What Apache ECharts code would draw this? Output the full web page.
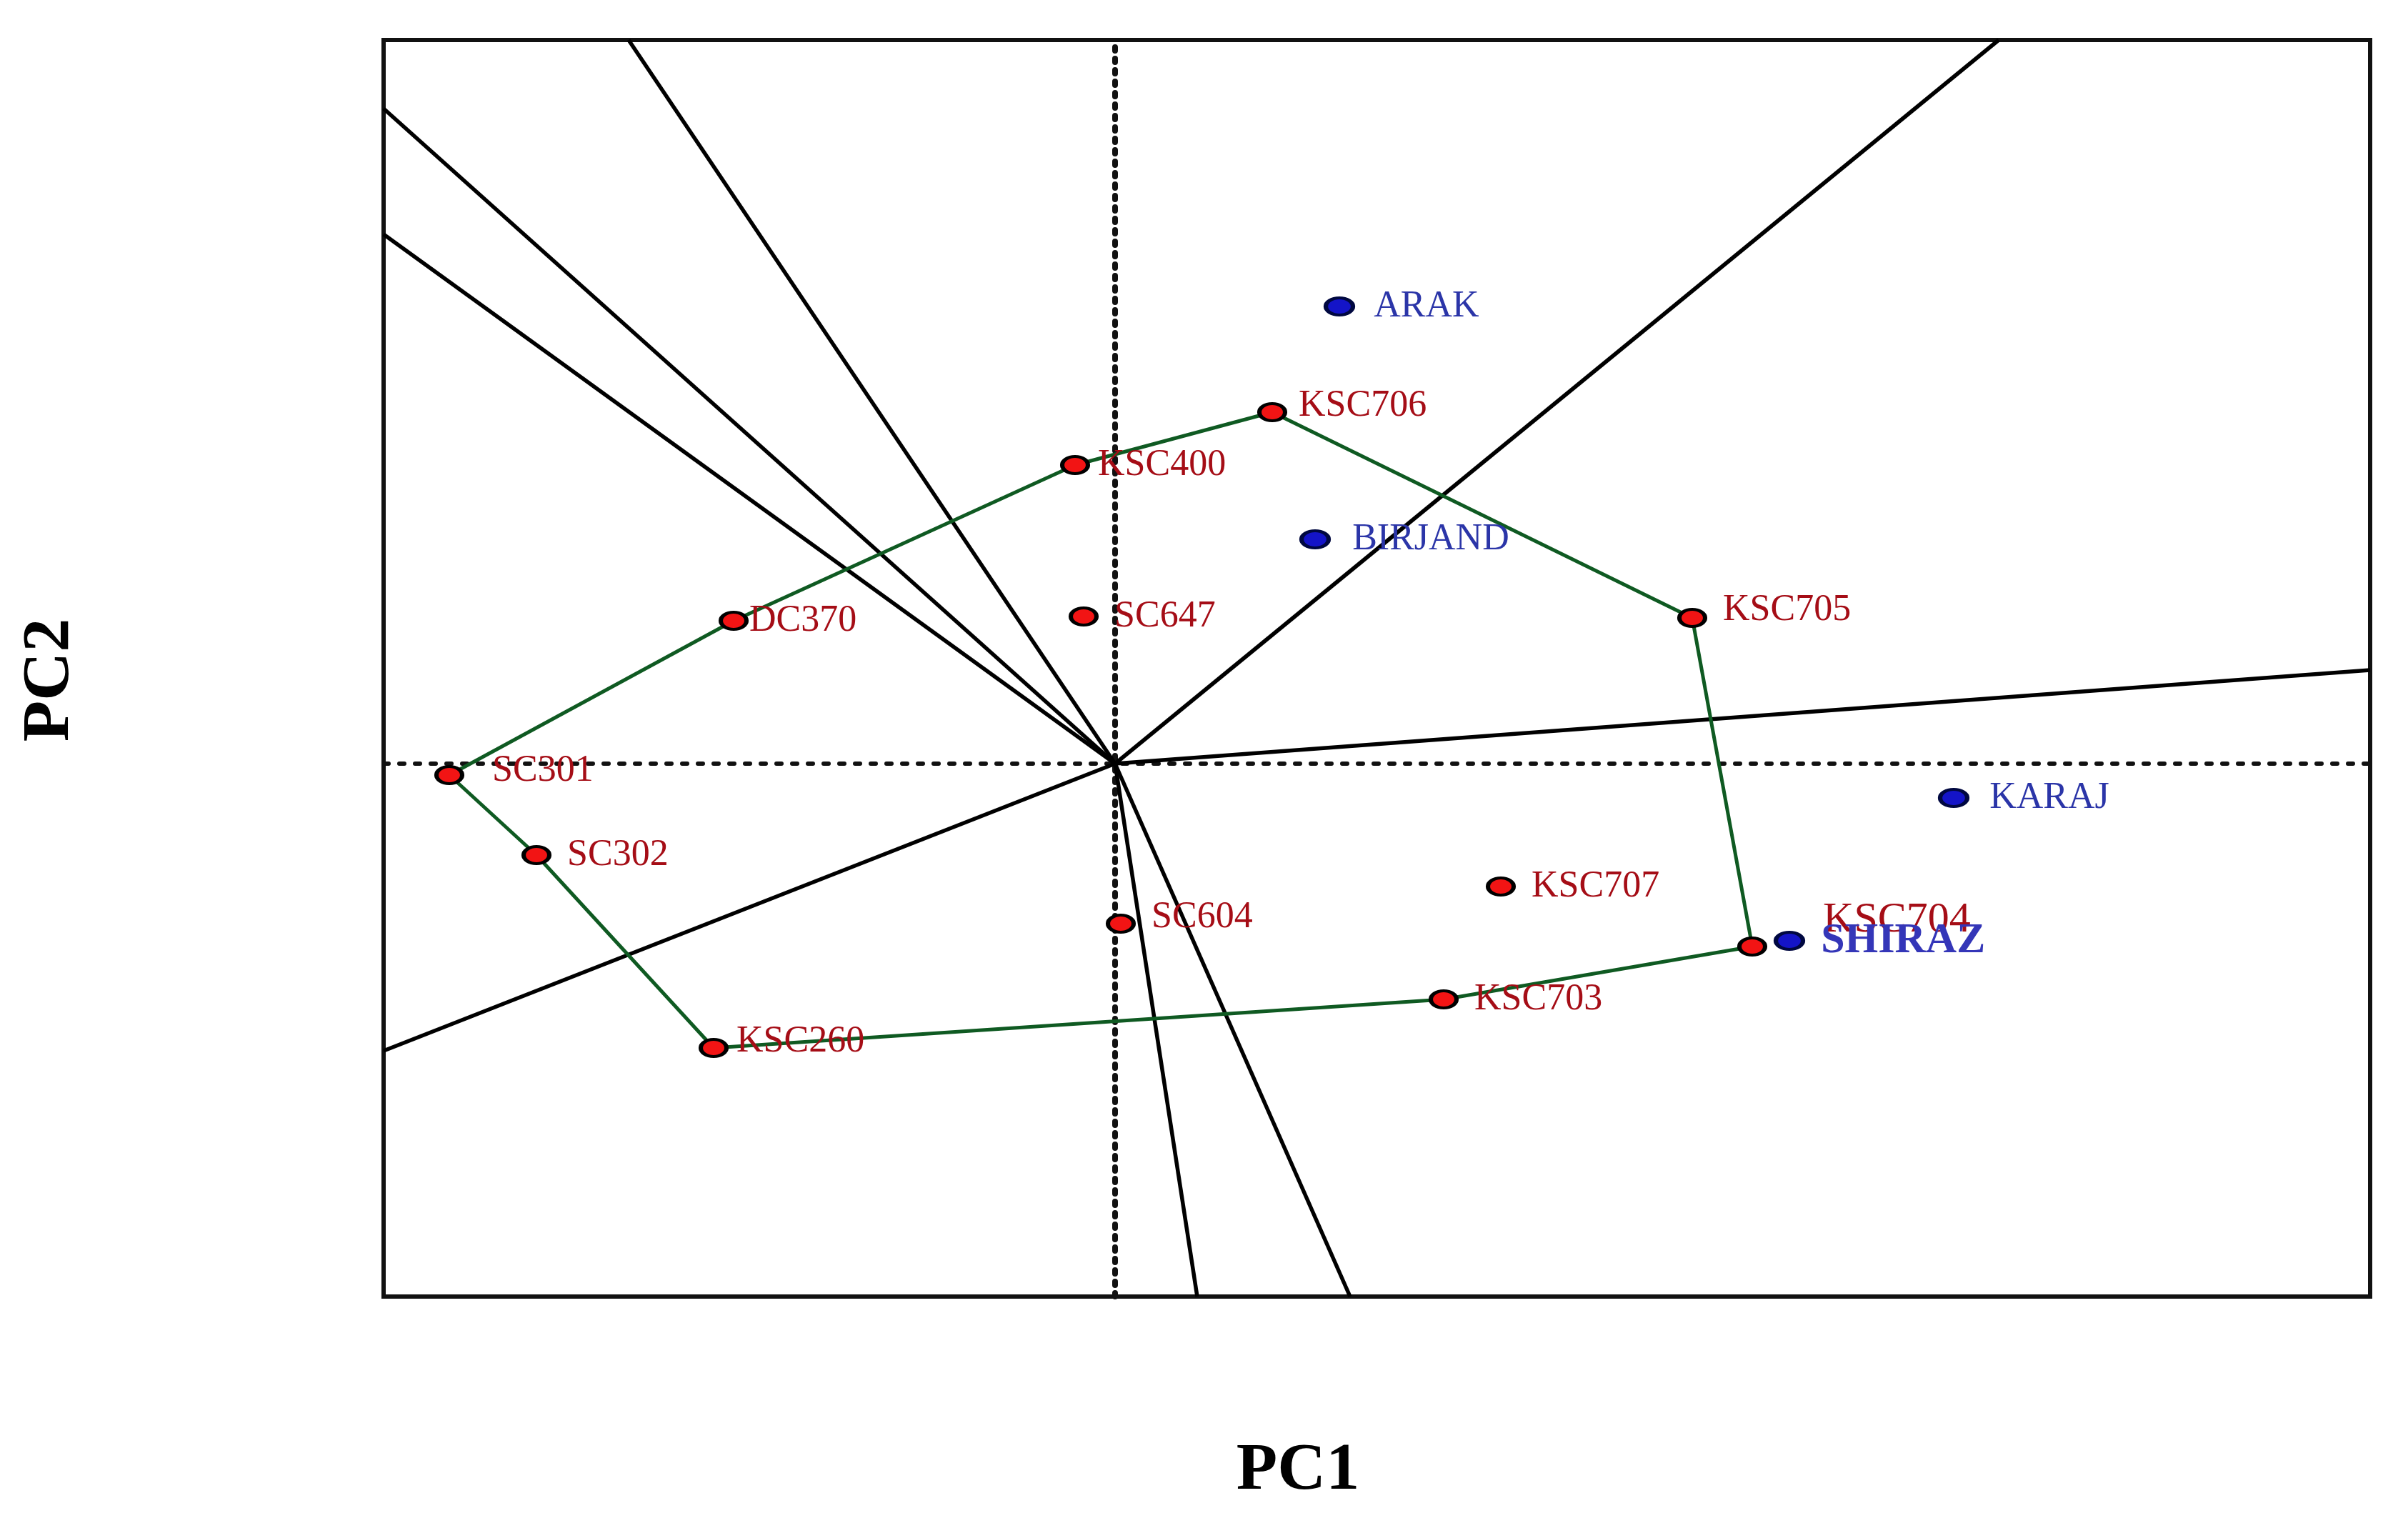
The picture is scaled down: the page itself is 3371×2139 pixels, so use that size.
<!DOCTYPE html>
<html><head><meta charset="utf-8">
<script src="https://cdn.jsdelivr.net/npm/echarts@6/dist/echarts.min.js"></script>
<style>html,body{margin:0;padding:0;background:#fff}#c{width:3371px;height:2139px}</style>
</head><body><div id="c"></div>
<script>
// ---- data (PC scores) ----
const genotypes = ['KSC706','KSC400','DC370','SC647','KSC705','SC301','SC302','KSC707','SC604','KSC704','KSC703','KSC260'];
const genotypePC1 = [1.10,-0.28,-2.67,-0.22,4.04,-4.66,-4.05,2.70,0.04,4.46,2.30,-2.81];
const genotypePC2 = [2.46,2.09,1.00,1.03,1.02,-0.08,-0.64,-0.86,-1.12,-1.28,-1.65,-1.99];
const environments = ['ARAK','BIRJAND','KARAJ','SHIRAZ'];
const environmentPC1 = [1.57,1.40,5.87,4.72];
const environmentPC2 = [3.20,1.57,-0.24,-1.24];
const hullOrder = ['SC301','DC370','KSC400','KSC706','KSC705','KSC704','KSC703','KSC260','SC302','SC301'];
const rayEndPC1 = [-3.405,-5.12,-5.12,6.185,8.785,-5.12,0.575,1.645];
const rayEndPC2 = [5.065,4.585,3.705,5.065,0.655,-2.01,-3.73,-3.73];
const pc1Range = [-5.12, 8.785];
const pc2Range = [-3.73, 5.065];
const axisTitles = ['PC1','PC2'];

// ---- styles ----
const labelTweaks = {
  DC370:{distance:1}, KSC400:{distance:11}, KSC260:{distance:11, offset:[0,-9]},
  KSC706:{distance:16, offset:[0,-9]}, SC301:{distance:39, offset:[0,-6]},
  KSC705:{offset:[0,-11]}, SC604:{offset:[0,-9]},
  KSC704:{distance:78, offset:[0,-37], fontSize:60},
  SHIRAZ:{fontSize:60, fontWeight:'bold', color:'#3436b8'},
  ARAK:{distance:26}, BIRJAND:{distance:30}, KARAJ:{distance:28}
};
const ellipse = 'path://M0,50 A50,50 0 1,1 100,50 A50,50 0 1,1 0,50 Z';
const serif = '"Liberation Serif", "Times New Roman", serif';

function pointData(names, xs, ys){
  return names.map((n,i)=>{
    const t = labelTweaks[n] || {};
    const lab = {};
    if (t.distance!==undefined) lab.distance = t.distance;
    if (t.offset) lab.offset = t.offset;
    if (t.fontSize) lab.fontSize = t.fontSize;
    if (t.fontWeight) lab.fontWeight = t.fontWeight;
    if (t.color) lab.color = t.color;
    return {name:n, value:[xs[i], ys[i]], label:lab};
  });
}

const gIndex = {}; genotypes.forEach((g,i)=>gIndex[g]=i);
const hullData = hullOrder.map(n=>[genotypePC1[gIndex[n]], genotypePC2[gIndex[n]]]);
const rayData = rayEndPC1.map((x,i)=>({coords:[[0,0],[x, rayEndPC2[i]]]}));

const chart = echarts.init(document.getElementById('c'), null, {renderer:'canvas'});
chart.setOption({
  backgroundColor:'#ffffff',
  animation:false,
  grid:{left:537, top:56, width:2781, height:1759, show:true, borderColor:'#111', borderWidth:6, backgroundColor:'#fff'},
  xAxis:{type:'value', min:pc1Range[0], max:pc1Range[1],
    axisLine:{show:true, onZero:true, lineStyle:{color:'#111', width:6, type:[7,15]}},
    axisTick:{show:false}, axisLabel:{show:false}, splitLine:{show:false}},
  yAxis:{type:'value', min:pc2Range[0], max:pc2Range[1],
    axisLine:{show:true, onZero:true, lineStyle:{color:'#111', width:8, type:[5,11]}},
    axisTick:{show:false}, axisLabel:{show:false}, splitLine:{show:false}},
  graphic:[
    {type:'text', x:1817, y:2060, style:{text:axisTitles[0], fontSize:94, fontWeight:'bold', fontFamily:serif, fill:'#000', align:'center', verticalAlign:'middle'}},
    {type:'text', x:71, y:952, rotation:Math.PI/2, style:{text:axisTitles[1], fontSize:94, fontWeight:'bold', fontFamily:serif, fill:'#000', align:'center', verticalAlign:'middle'}}
  ],
  series:[
    {type:'lines', coordinateSystem:'cartesian2d', data:rayData, silent:true, z:2,
      lineStyle:{color:'#000', width:5.5, opacity:1, curveness:0}},
    {type:'line', data:hullData, symbol:'none', silent:true, z:3,
      lineStyle:{color:'#0f5a22', width:5}},
    {type:'scatter', data:pointData(genotypes, genotypePC1, genotypePC2), z:5,
      symbol:ellipse, symbolSize:[36,24],
      itemStyle:{color:'#f21414', borderColor:'#000', borderWidth:5, opacity:1},
      label:{show:true, position:'right', distance:22, formatter:'{b}', fontFamily:serif, fontSize:52, color:'#a50d16'}},
    {type:'scatter', data:pointData(environments, environmentPC1, environmentPC2), z:6,
      symbol:ellipse, symbolSize:[38,24],
      itemStyle:{color:'#1414c8', borderColor:'#000840', borderWidth:5, opacity:1},
      label:{show:true, position:'right', distance:22, formatter:'{b}', fontFamily:serif, fontSize:52, color:'#2b35a8'}}
  ]
});
</script></body></html>
